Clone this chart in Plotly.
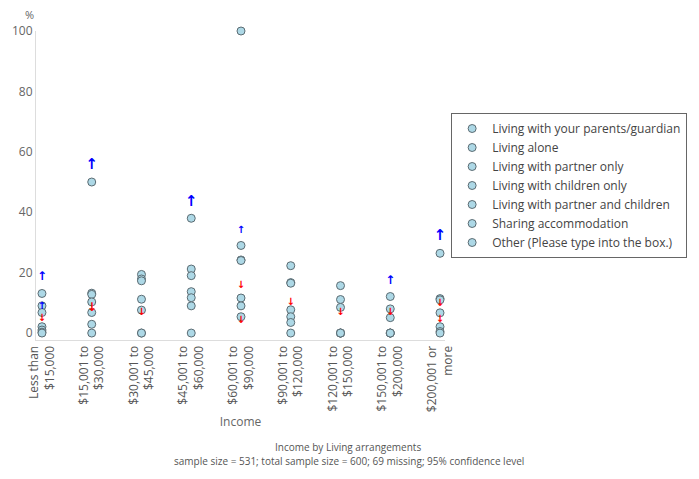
import plotly.graph_objects as go

# Income categories (x axis)
categories = [
    "Less than<br>$15,000", "$15,001 to<br>$30,000", "$30,001 to<br>$45,000",
    "$45,001 to<br>$60,000", "$60,001 to<br>$90,000", "$90,001 to<br>$120,000",
    "$120,001 to<br>$150,000", "$150,001 to<br>$200,000", "$200,001 or<br>more",
]

# Living arrangements (series)
series_names = [
    "Living with your parents/guardian",
    "Living alone",
    "Living with partner only",
    "Living with children only",
    "Living with partner and children",
    "Sharing accommodation",
    "Other (Please type into the box.)",
]

# % values, one list per series, in category order
parents = [13.1, 50.0, 19.4, 38.0, 100.0, 22.3, 15.7, 12.1, 26.4]
alone = [9.0, 13.2, 17.9, 21.2, 29.0, 16.7, 11.1, 8.0, 11.4]
partner = [6.8, 12.8, 17.3, 19.0, 24.2, 16.5, 8.5, 5.1, 11.0]
children = [2.1, 10.3, 11.2, 13.7, 24.0, 7.7, 0.0, 0.0, 6.7]
partner_children = [1.0, 6.8, 7.6, 11.7, 11.6, 5.4, 0.0, 0.0, 2.1]
sharing = [0.3, 2.9, 0.0, 9.0, 9.0, 3.5, 0.0, 0.0, 0.5]
other = [0.0, 0.0, 0.0, 0.0, 5.4, 0.0, 0.0, 0.0, 0.0]
series_values = [parents, alone, partner, children, partner_children, sharing, other]

# significance arrows: category index, y position, direction, strength
arrow_cat = [0, 0, 0, 1, 1, 2, 3, 4, 4, 4, 5, 6, 7, 7, 8, 8, 8]
arrow_y = [18.4, 8.7, 4.7, 55.6, 8.4, 6.7, 43.3, 33.9, 15.6, 4.3, 10.2, 6.8, 17.2, 6.8, 31.9, 9.8, 4.5]
arrow_dir = ["up", "up", "down", "up", "down", "down", "up", "up", "down", "down",
             "down", "down", "up", "down", "up", "down", "down"]
arrow_strength = [2, 1, 1, 3, 2, 1, 3, 1, 1, 1, 1, 1, 2, 1, 3, 1, 1]

fig = go.Figure()

for name, vals in zip(series_names, series_values):
    fig.add_trace(go.Scatter(
        x=categories, y=vals, name=name, mode="markers",
        marker=dict(size=8, color="lightblue", line=dict(color="#5b6b72", width=1)),
        cliponaxis=False,
    ))

# arrows drawn as text glyphs
sizes = {1: 10, 2: 12, 3: 15}
for direction, colour, glyph in [("up", "blue", "\u2191"), ("down", "red", "\u2193")]:
    idx = [i for i, d in enumerate(arrow_dir) if d == direction]
    fig.add_trace(go.Scatter(
        x=[categories[arrow_cat[i]] for i in idx],
        y=[arrow_y[i] for i in idx],
        mode="text",
        text=[glyph] * len(idx),
        textfont=dict(family="DejaVu Sans", color=colour, weight="bold",
                      size=[sizes[arrow_strength[i]] for i in idx]),
        textposition="middle center",
        showlegend=False, hoverinfo="skip", cliponaxis=False,
    ))

# page has an 8px body margin, so the figure is drawn 8px smaller
fig.update_layout(
    width=691, height=471,
    margin=dict(l=28, r=254, t=23, b=139),
    paper_bgcolor="white", plot_bgcolor="white",
    font=dict(family="Open Sans", color="#666666", size=12),
    xaxis=dict(
        type="category", range=[-0.12, 8.1], tickangle=-90, automargin=False,
        showgrid=False, zeroline=False, showline=True,
        linecolor="#dddddd", linewidth=1,
        tickfont=dict(size=12, color="#555555"),
        title=dict(text="Income", font=dict(size=12, color="#666666"), standoff=6),
    ),
    yaxis=dict(
        range=[-2.3, 100], tickvals=[0, 20, 40, 60, 80, 100], automargin=False,
        showgrid=False, zeroline=False, showline=True,
        linecolor="#dddddd", linewidth=1,
        tickfont=dict(size=12, color="#666666"),
    ),
    legend=dict(
        x=1.015, xanchor="left", y=0.5, yanchor="middle",
        bordercolor="#666666", borderwidth=1,
        font=dict(size=12, color="#444444"),
    ),
    annotations=[
        dict(text="%", xref="paper", yref="paper", x=-0.015, y=1.055,
             xanchor="center", yanchor="middle", showarrow=False,
             font=dict(size=11, color="#666666")),
        dict(text="Income by Living arrangements", xref="paper", yref="paper",
             x=(348 - 36) / 409, y=-(446.7 - 340) / 309,
             xanchor="center", yanchor="middle", showarrow=False,
             font=dict(size=10, color="#555555")),
        dict(text="sample size = 531; total sample size = 600; 69 missing; 95% confidence level",
             xref="paper", yref="paper",
             x=(349 - 36) / 409, y=-(461 - 340) / 309,
             xanchor="center", yanchor="middle", showarrow=False,
             font=dict(size=10, color="#555555")),
    ],
)

fig.write_html("out.html")
